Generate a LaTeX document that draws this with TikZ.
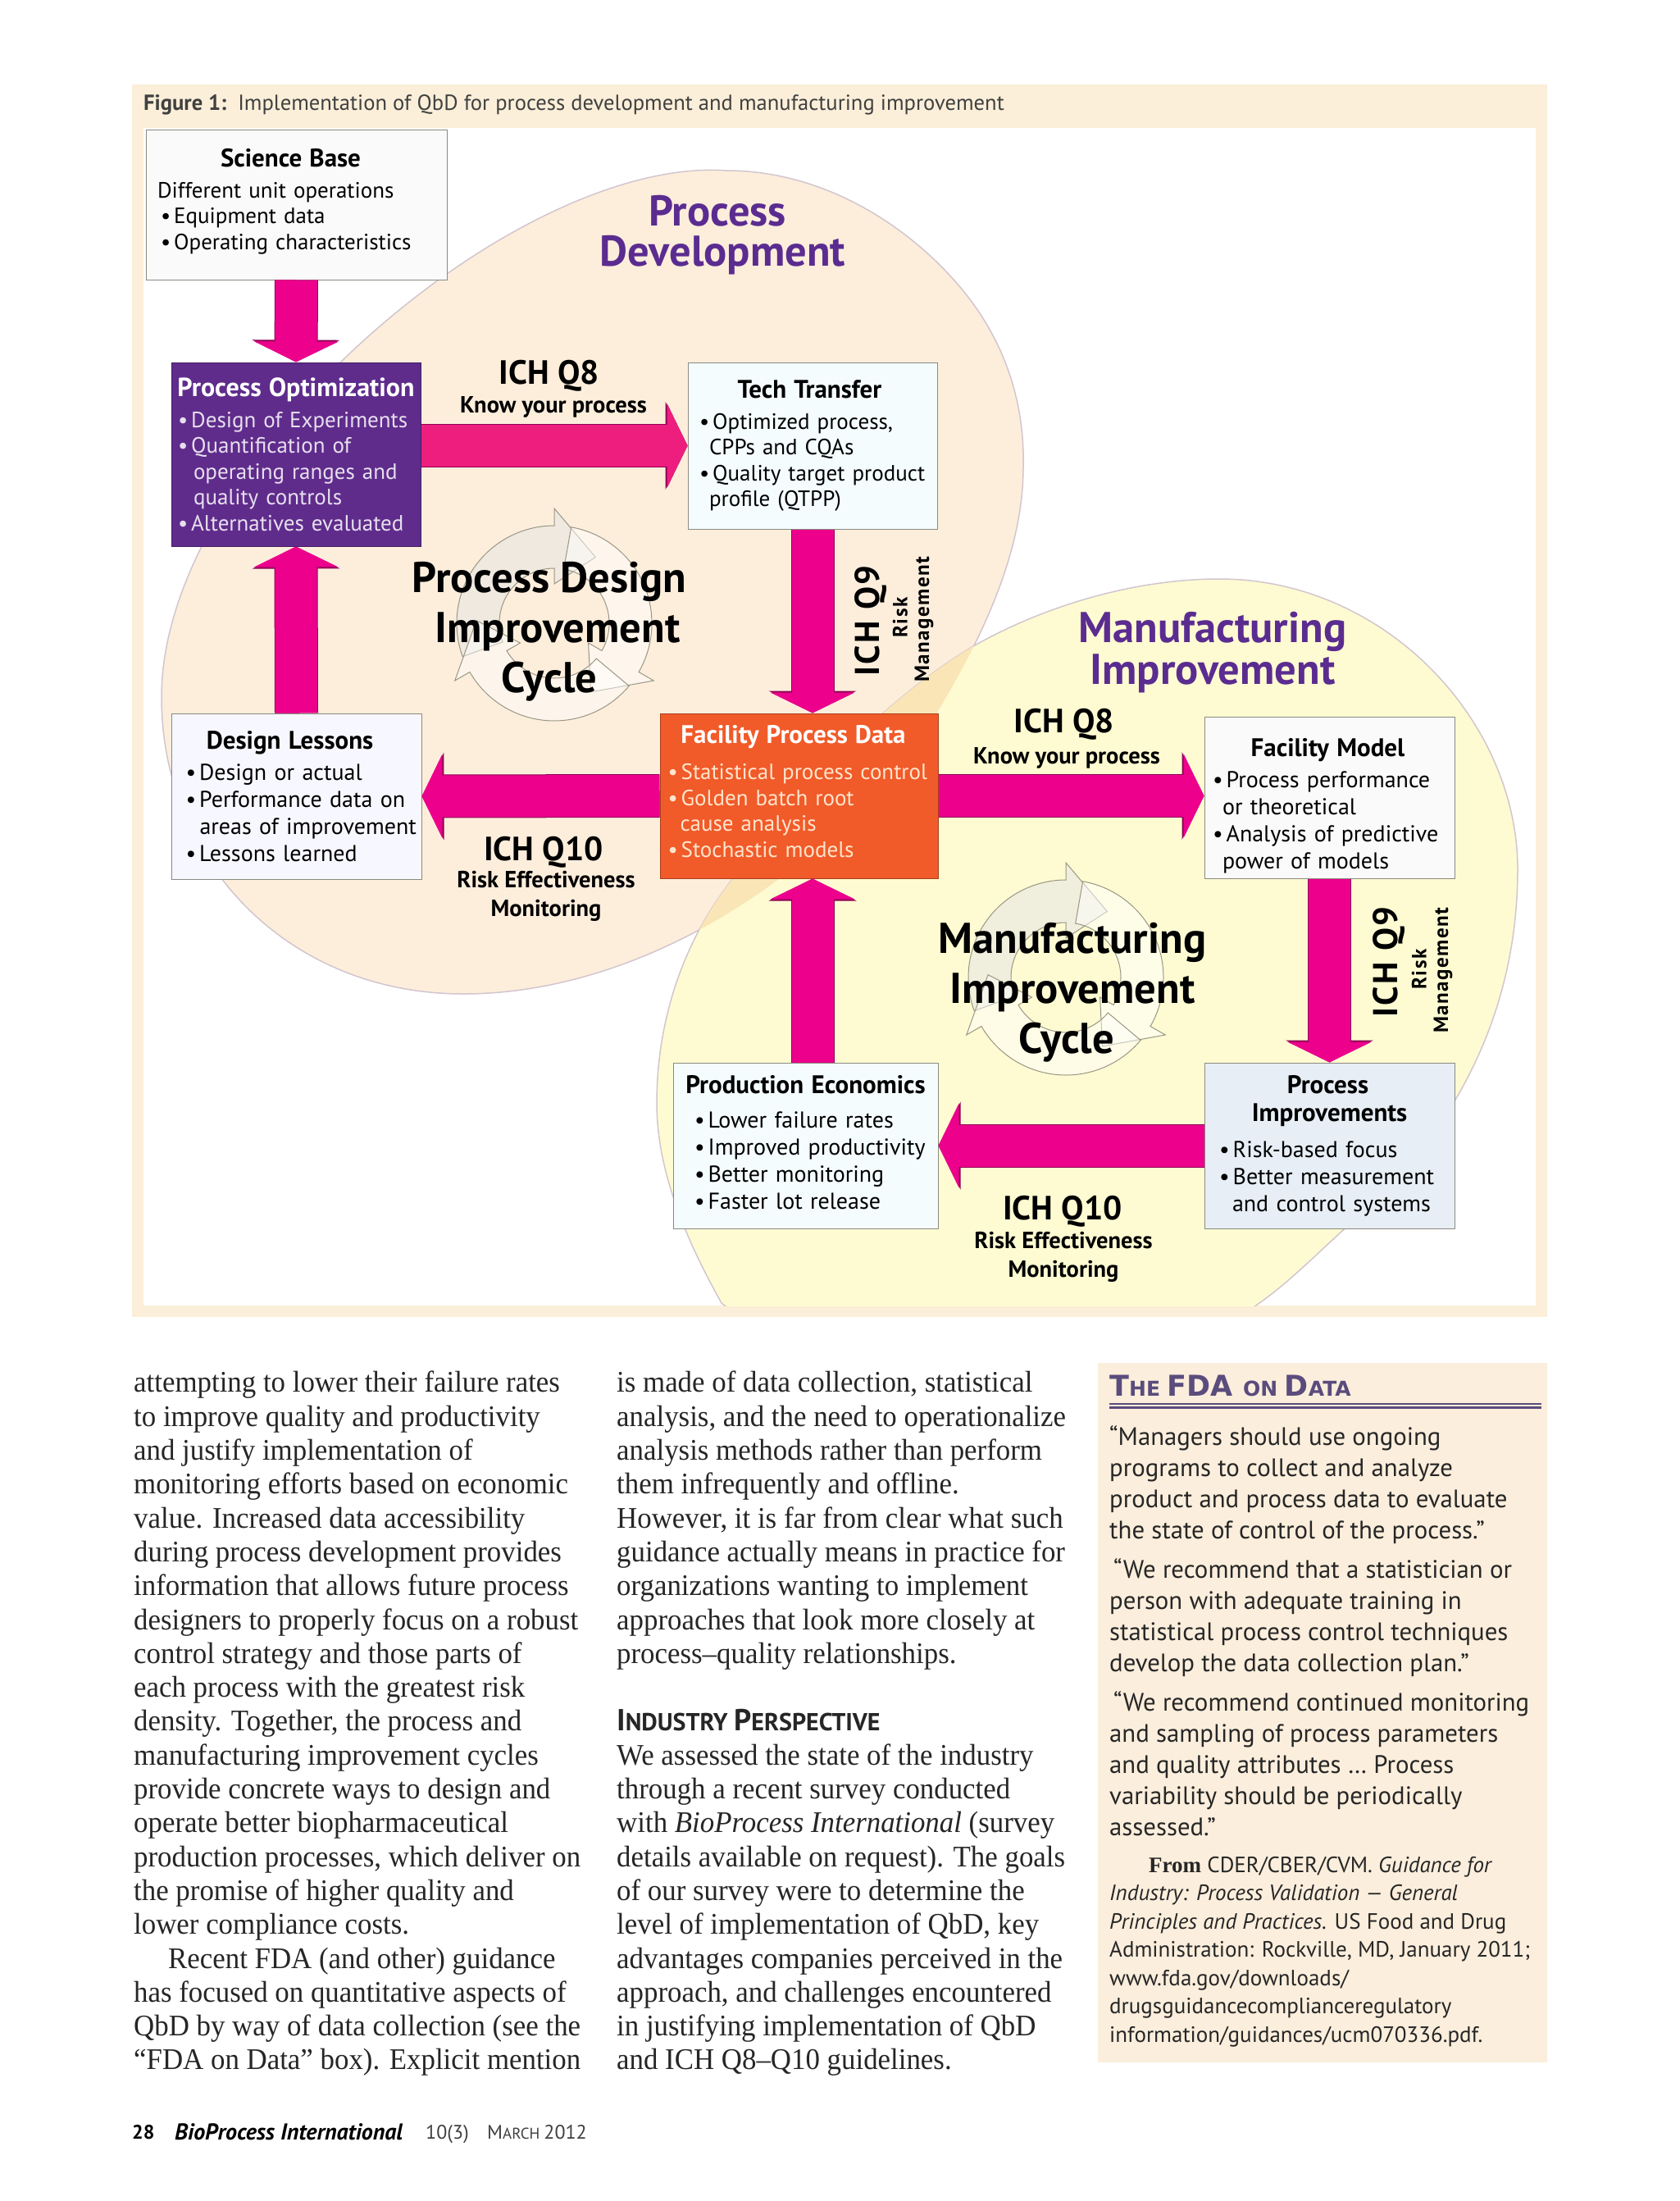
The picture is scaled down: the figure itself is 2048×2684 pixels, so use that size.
\documentclass[tikz,border=0pt]{standalone}
\usepackage{fontspec}
\usepackage{xcolor}
\usetikzlibrary{arrows.meta}
\setmainfont{PT Sans}
\newfontfamily\columnfont[FakeStretch=0.955]{Liberation Serif}
\newfontfamily\headfont{DejaVu Sans}
\definecolor{bandcream}{HTML}{FBEFD9}
\definecolor{peachblob}{HTML}{FDEEDC}
\definecolor{yellowblob}{HTML}{FEFBD2}
\definecolor{overlapblob}{HTML}{FAE5B6}
\definecolor{bloboutline}{HTML}{D2C6CE}
\definecolor{arrowpink}{HTML}{EC008C}
\definecolor{qeightpink}{HTML}{EE1E7E}
\definecolor{optpurple}{HTML}{5F2C8C}
\definecolor{factoryorange}{HTML}{F15A29}
\definecolor{titlepurple}{HTML}{5B2C90}
\definecolor{sidepurple}{HTML}{5A4C7C}
\definecolor{sidecream}{HTML}{FBEEDC}
\definecolor{paleblue}{HTML}{E7EEF5}
\definecolor{ringline}{HTML}{9A9684}
\definecolor{boxline}{HTML}{8A8A80}
\newcommand{\peachpath}{(886,208) .. controls (1000,208) and (1100,270) .. (1164,342)
    .. controls (1225,410) and (1250,490) .. (1248,570)
    .. controls (1248,680) and (1190,790) .. (1144,867)
    .. controls (1010,1070) and (780,1212) .. (565,1212)
    .. controls (350,1212) and (197,1050) .. (197,850)
    .. controls (197,560) and (630,190) .. (886,208) -- cycle}
\newcommand{\yellowpath}{(1487,706) .. controls (1690,706) and (1851,880) .. (1851,1060)
    .. controls (1851,1240) and (1770,1390) .. (1637,1501)
    .. controls (1600,1535) and (1570,1565) .. (1536,1589)
    .. controls (1400,1690) and (1000,1690) .. (880,1589)
    .. controls (830,1500) and (801,1420) .. (801,1345)
    .. controls (801,1250) and (830,1160) .. (880,1090)
    .. controls (930,1020) and (1050,870) .. (1187,788)
    .. controls (1290,730) and (1400,706) .. (1487,706) -- cycle}
\newcommand{\cyclering}[2]{%
  \foreach \turn/\shade/\veil in {0/black!10/.55, -120/white/.5, -240/white/.45}
    \draw[cycleline, fill=\shade, fill opacity=\veil, shift={(#1,#2)}, rotate=\turn]
      (200:119pt) arc[start angle=200, end angle=90, radius=119pt] -- (90:140pt) -- (58:95pt)
      -- (90:48pt) -- (90:67pt) arc[start angle=90, end angle=200, radius=67pt] -- cycle;
}
\newcommand{\boxhead}[1]{\makebox[\linewidth]{\fontsize{31}{31}\selectfont\bfseries #1}}
\newcommand{\dotitem}{\textbullet\hspace{4pt}}
\newcommand{\blocklift}[1]{\\[\dimexpr#1-\baselineskip\relax]\mbox{}}
\newcommand{\blockdrop}[1]{\mbox{}\\[\dimexpr#1-\baselineskip\relax]}
\begin{document}
\begin{tikzpicture}[x=1pt, y=-1pt,
    cycleline/.style={draw=ringline, line width=1pt},
    infobox/.style={rectangle, draw=boxline, line width=1pt, inner sep=0pt, align=left,
        font=\fontsize{27}{31.5}\selectfont, text=black},
    infowide/.style={infobox, font=\fontsize{28}{33}\selectfont},
    blockarrow/.style={arrowpink, line width=51pt, -{Triangle[length=25pt,width=102pt]},
        preaction={draw=arrowpink!60!black, line width=53pt, -{Triangle[length=27pt,width=106pt]}}},
    biglabel/.style={align=center, inner sep=0pt, font=\fontsize{52.5}{61}\selectfont\bfseries},
    areatitle/.style={align=center, inner sep=0pt, text=titlepurple, font=\fontsize{52.5}{49}\selectfont\bfseries},
    ichlabel/.style={inner sep=0pt, font=\fontsize{41}{41}\selectfont\bfseries},
    ichsub/.style={inner sep=0pt, align=center, font=\fontsize{28.5}{35}\selectfont\bfseries},
    ninelabel/.style={inner sep=0pt, rotate=90, font=\fontsize{42}{42}\selectfont\bfseries\addfontfeature{LetterSpace=6}},
    ninesub/.style={inner sep=0pt, rotate=90, font=\fontsize{25}{25}\selectfont\bfseries\addfontfeature{LetterSpace=6}},
    columntext/.style={anchor=north west, inner sep=0pt, align=left, text=black!85,
        font=\columnfont\fontsize{36.5}{41.3}\selectfont},
    sidetext/.style={anchor=north west, inner sep=0pt, align=left, text=black!85,
        font=\fontsize{30.8}{38}\selectfont},
    sourcetext/.style={anchor=north west, inner sep=0pt, align=left, text=black!85,
        font=\fontsize{27}{34.5}\selectfont},
    footertext/.style={anchor=west, inner sep=0pt, font=\fontsize{24}{24}\selectfont}]
    \useasboundingbox (0,0) rectangle (2048,2684);
    \fill[white] (0,0) rectangle (2048,2684);
    \fill[bandcream] (161,103) rectangle (1887,1606);
    \fill[white] (175,156) rectangle (1873,1592);
    \begin{scope}
        \clip (175,156) rectangle (1873,1592);
        \draw[bloboutline, fill=peachblob, line width=1.5pt] \peachpath;
        \draw[bloboutline, fill=yellowblob, line width=1.5pt] \yellowpath;
        \begin{scope}
            \clip \peachpath;
            \fill[overlapblob] \yellowpath;
        \end{scope}
    \end{scope}
    \cyclering{676}{760}
    \cyclering{1300}{1192}
    \node[anchor=west, inner sep=0pt, text=black!75, font=\fontsize{26.6}{27}\selectfont] (figtitle) at (175,128)
        {\textbf{Figure 1:}\hspace{14pt}Implementation of QbD for process development and manufacturing improvement};
    \node[areatitle] (devtitle) at (875,287) {Process\\\hspace*{13pt}Development};
    \node[areatitle] (mfgtitle) at (1479,796) {Manufacturing\\[2pt]Improvement};
    \node[biglabel] (designcycle) at (670,770) {Process Design\\\hspace*{20pt}Improvement\\Cycle};
    \node[biglabel] (mfgcycle) at (1308,1210) {Manufacturing\\Improvement\\\hspace*{-14pt}Cycle};
    \node[infobox, fill=white!98!black, minimum width=367pt, minimum height=182pt, text width=339pt] (sciencebase) at (361.5,250)
        {\boxhead{\hspace*{-14pt}Science Base}\\[6pt]
         Different unit operations\\
         \hspace*{4pt}\dotitem Equipment data\\
         \hspace*{4pt}\dotitem Operating characteristics\blocklift{14pt}};
    \node[infobox, fill=optpurple, draw=optpurple!70!black, text=white!85!optpurple, minimum width=304pt, minimum height=224pt, text width=288pt] (processopt) at (361,554)
        {\boxhead{\fontsize{32}{32}\selectfont\textcolor{white}{Process Optimization}}\\[6pt]
         \dotitem Design of Experiments\\
         \dotitem Quantification of\\
         \hspace*{19pt}operating ranges and\\
         \hspace*{19pt}quality controls\\
         \dotitem Alternatives evaluated};
    \node[infobox, fill=white!96!cyan, minimum width=304pt, minimum height=203pt, text width=288pt] (techtransfer) at (991,543.5)
        {\boxhead{\hspace*{-7pt}Tech Transfer}\\[6pt]
         \hspace*{6pt}\dotitem Optimized process,\\
         \hspace*{18pt}CPPs and CQAs\\
         \hspace*{6pt}\dotitem Quality target product\\
         \hspace*{18pt}profile (QTPP)};
    \node[infobox, fill=factoryorange, draw=factoryorange!70!black, text=white!80!orange, minimum width=339pt, minimum height=201pt, text width=320pt] (facilitydata) at (974.5,970.5)
        {\boxhead{\textcolor{white}{\hspace*{-14pt}Facility Process Data}}\\[13pt]
         \dotitem Statistical process control\\
         \dotitem Golden batch root\\
         \hspace*{15pt}cause analysis\\
         \dotitem Stochastic models\blocklift{12pt}};
    \node[infowide, fill=white!97!blue, minimum width=305pt, minimum height=202pt, text width=296pt] (designlessons) at (361.5,971)
        {\boxhead{\hspace*{-16pt}Design Lessons}\\[5pt]
         \hspace*{13pt}\dotitem Design or actual\\
         \hspace*{13pt}\dotitem Performance data on\\
         \hspace*{30pt}\mbox{areas of improvement}\\
         \hspace*{13pt}\dotitem Lessons learned};
    \node[infowide, fill=white!98!black, minimum width=305pt, minimum height=197pt, text width=285pt] (facilitymodel) at (1621.5,972.5)
        {\blockdrop{42pt}\boxhead{\hspace*{-4pt}Facility Model}\\[5pt]
         \dotitem Process performance\\
         \hspace*{12pt}or theoretical\\
         \dotitem Analysis of predictive\\
         \hspace*{12pt}power of models};
    \node[infowide, fill=paleblue, minimum width=305pt, minimum height=202pt, text width=285pt] (processimp) at (1621.5,1397)
        {\boxhead{\hspace*{-4pt}Process}\\[1pt]
         \boxhead{Improvements}\\[11.5pt]
         \hspace*{8pt}\dotitem Risk-based focus\\
         \hspace*{8pt}\dotitem Better measurement\\
         \hspace*{24pt}and control systems\blocklift{5pt}};
    \node[infowide, fill=white!96!cyan, minimum width=323pt, minimum height=202pt, text width=303pt] (prodecon) at (982.5,1397)
        {\boxhead{Production Economics}\\[9pt]
         \hspace*{16pt}\dotitem Lower failure rates\\
         \hspace*{16pt}\dotitem Improved productivity\\
         \hspace*{16pt}\dotitem Better monitoring\\
         \hspace*{16pt}\dotitem Faster lot release\blocklift{8pt}};
    \draw[blockarrow] (sciencebase.south) -- (processopt.north);
    \draw[blockarrow] (designlessons.north) -- (processopt.south);
    \draw[blockarrow, qeightpink, preaction={draw=qeightpink!60!black}] (techtransfer.west -| processopt.east) -- (techtransfer.west);
    \draw[blockarrow] (techtransfer.south) -- (techtransfer.south |- facilitydata.north);
    \draw[blockarrow] (facilitydata.west) -- (designlessons.east);
    \draw[blockarrow] (facilitydata.east) -- (facilitymodel.west |- facilitydata.east);
    \draw[blockarrow] (facilitymodel.south) -- (processimp.north);
    \draw[blockarrow] (processimp.west) -- (prodecon.east);
    \draw[blockarrow] (techtransfer.south |- prodecon.north) -- (techtransfer.south |- facilitydata.south);
    \node[ichlabel] (qeighta) at (670,458) {ICH Q8};
    \node[ichsub] (qeightatext) at (675,496) {Know your process};
    \node[ichlabel] (qeightb) at (1298,883) {ICH Q8};
    \node[ichsub] (qeightbtext) at (1301,924) {Know your process};
    \node[ichlabel] (qtena) at (663,1039) {ICH Q10};
    \node[ichsub] (qtenatext) at (666,1093) {Risk Effectiveness\\Monitoring};
    \node[ichlabel] (qtenb) at (1296,1477) {ICH Q10};
    \node[ichsub] (qtenbtext) at (1297,1533) {Risk Effectiveness\\Monitoring};
    \node[ninelabel] (qninea) at (1062,757) {ICH Q9};
    \node[ninesub] (riska) at (1098,753) {Risk};
    \node[ninesub] (mgmta) at (1127,755) {Management};
    \node[ninelabel] (qnineb) at (1694,1173) {ICH Q9};
    \node[ninesub] (riskb) at (1731,1182) {Risk};
    \node[ninesub] (mgmtb) at (1760,1183) {Management};
    \node[columntext] (columnone) at (163,1672)
        {attempting to lower their failure rates\\
         to improve quality and productivity\\
         and justify implementation of\\
         monitoring efforts based on economic\\
         value. Increased data accessibility\\
         during process development provides\\
         information that allows future process\\
         designers to properly focus on a robust\\
         control strategy and those parts of\\
         each process with the greatest risk\\
         density. Together, the process and\\
         manufacturing improvement cycles\\
         provide concrete ways to design and\\
         operate better biopharmaceutical\\
         production processes, which deliver on\\
         the promise of higher quality and\\
         lower compliance costs.\\
         \hspace*{42pt}Recent FDA (and other) guidance\\
         has focused on quantitative aspects of\\
         QbD by way of data collection (see the\\
         “FDA on Data” box). Explicit mention};
    \node[columntext] (columntwo) at (752,1672)
        {is made of data collection, statistical\\
         analysis, and the need to operationalize\\
         analysis methods rather than perform\\
         them infrequently and offline.\\
         However, it is far from clear what such\\
         guidance actually means in practice for\\
         organizations wanting to implement\\
         approaches that look more closely at\\
         process–quality relationships.\\
         \\
         {\fontspec{PT Sans}\bfseries\fontsize{37}{41.3}\selectfont I\fontsize{30}{41.3}\selectfont NDUSTRY \fontsize{37}{41.3}\selectfont P\fontsize{30}{41.3}\selectfont ERSPECTIVE}\\
         We assessed the state of the industry\\
         through a recent survey conducted\\
         with \textit{BioProcess International} (survey\\
         details available on request). The goals\\
         of our survey were to determine the\\
         level of implementation of QbD, key\\
         advantages companies perceived in the\\
         approach, and challenges encountered\\
         in justifying implementation of QbD\\
         and ICH Q8–Q10 guidelines.};
    \fill[sidecream] (1339,1662) rectangle (1887,2515);
    \node[anchor=base west, inner sep=0pt, text=sidepurple, font=\headfont\bfseries] (sidetitle) at (1353,1702)
        {\fontsize{35}{35}\selectfont T\fontsize{25}{25}\selectfont HE \fontsize{35}{35}\selectfont FDA \fontsize{25}{25}\selectfont ON \fontsize{35}{35}\selectfont D\fontsize{25}{25}\selectfont ATA};
    \fill[sidepurple] (1353,1711) rectangle (1880,1713);
    \fill[sidepurple] (1353,1715) rectangle (1880,1718);
    \node[sidetext] (quoteone) at (1353,1738)
        {“Managers should use ongoing\\
         programs to collect and analyze\\
         product and process data to evaluate\\
         the state of control of the process.”};
    \node[sidetext] (quotetwo) at (1358,1900)
        {“We recommend that a statistician or\\
         \hspace*{-5pt}person with adequate training in\\
         \hspace*{-5pt}statistical process control techniques\\
         \hspace*{-5pt}develop the data collection plan.”};
    \node[sidetext] (quotethree) at (1358,2062)
        {“We recommend continued monitoring\\
         \hspace*{-5pt}and sampling of process parameters\\
         \hspace*{-5pt}and quality attributes … Process\\
         \hspace*{-5pt}variability should be periodically\\
         \hspace*{-5pt}assessed.”};
    \node[sourcetext] (sourcenote) at (1353,2264)
        {\hspace*{48pt}{\fontspec{Liberation Serif}\bfseries From} CDER/CBER/CVM. \textit{Guidance for}\\
         \textit{Industry: Process Validation — General}\\
         \textit{Principles and Practices.} US Food and Drug\\
         Administration: Rockville, MD, January 2011;\\
         www.fda.gov/downloads/\\
         drugsguidancecomplianceregulatory\\
         information/guidances/ucm070336.pdf.};
    \node[footertext, font=\fontsize{24}{24}\selectfont\bfseries] (pagenum) at (161,2600) {28};
    \node[footertext, font=\fontsize{28}{28}\selectfont\bfseries\itshape] (journal) at (213,2600) {BioProcess International};
    \node[footertext, text=black!75] (volume) at (519,2603) {10(3)};
    \node[footertext, text=black!75] (issue) at (594,2600) {M\fontsize{19}{24}\selectfont ARCH \fontsize{24}{24}\selectfont 2012};
\end{tikzpicture}
\end{document}
